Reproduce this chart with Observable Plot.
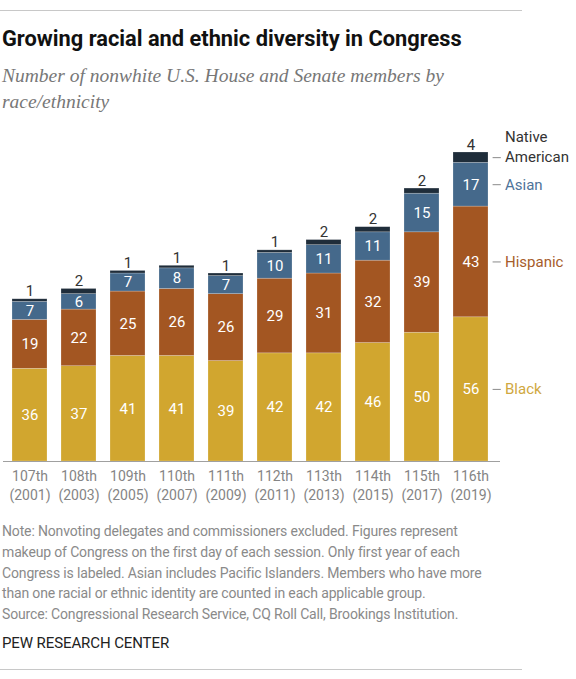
<!DOCTYPE html>
<html>
<head>
<meta charset="utf-8">
<script src="https://cdn.jsdelivr.net/npm/d3@7"></script>
<script src="https://cdn.jsdelivr.net/npm/@observablehq/plot@0.6"></script>
<style>
  html, body { margin: 0; padding: 0; background: #fff; }
  #wrap { position: relative; width: 576px; height: 679px; overflow: hidden; }
  .rule { position: absolute; left: 0; width: 522px; height: 1px; background: #c8c8c8; }
  #title { position: absolute; left: 2px; top: 26px; font: bold 21.8px "Liberation Sans Narrow", "Roboto", sans-serif; line-height: 26px; color: #111; white-space: nowrap; }
  #subtitle { position: absolute; left: 2px; top: 63px; font: italic 19.5px "Liberation Serif", serif; line-height: 26px; color: #777; }
  #chart { position: absolute; left: 0; top: 120px; }
  #note { position: absolute; left: 2px; top: 521px; font: 14px "Roboto", sans-serif; line-height: 20.8px; color: #8a8a8a; letter-spacing: -0.15px; white-space: nowrap; }
  #org { position: absolute; left: 2px; top: 634px; font: 15px "Roboto", sans-serif; line-height: 18px; color: #222; letter-spacing: -0.1px; }
</style>
</head>
<body>
<div id="wrap">
  <div class="rule" style="top:10px"></div>
  <div id="title">Growing racial and ethnic diversity in Congress</div>
  <div id="subtitle">Number of nonwhite U.S. House and Senate members by<br>race/ethnicity</div>
  <div id="chart"></div>
  <div id="note">Note: Nonvoting delegates and commissioners excluded. Figures represent<br>makeup of Congress on the first day of each session. Only first year of each<br>Congress is labeled. Asian includes Pacific Islanders. Members who have more<br>than one racial or ethnic identity are counted in each applicable group.<br>Source: Congressional Research Service, CQ Roll Call, Brookings Institution.</div>
  <div id="org">PEW RESEARCH CENTER</div>
  <div class="rule" style="top:669px"></div>
</div>
<script>
const congresses = ["107th","108th","109th","110th","111th","112th","113th","114th","115th","116th"];
const years = ["2001","2003","2005","2007","2009","2011","2013","2015","2017","2019"];
const black    = [36,37,41,41,39,42,42,46,50,56];
const hispanic = [19,22,25,26,26,29,31,32,39,43];
const asian    = [7,6,7,8,7,10,11,11,15,17];
const native   = [1,2,1,1,1,1,2,2,2,4];
const groups = ["Black","Hispanic","Asian","Native American"];
const groupColors = ["#d1a62f","#a35622","#45698b","#1f2d3a"];
const labelColors = ["#d0a841","#a65d2c","#4e7399","#333333"];

const series = [black, hispanic, asian, native];
const table = [];
congresses.forEach((c, i) => {
  let acc = 0;
  series.forEach((s, g) => {
    const v = s[i];
    table.push({congress: c, group: groups[g], value: v, y1: acc, y2: acc + v, mid: acc + v / 2});
    acc += v;
  });
});
const totals = congresses.map((c, i) => black[i] + hispanic[i] + asian[i] + native[i]);
const tops = congresses.map((c, i) => ({congress: c, value: native[i], total: totals[i]}));
const ticks = congresses.map((c, i) => ({congress: c, label: c + "\n(" + years[i] + ")"}));
const last = congresses[congresses.length - 1];
const legend = table.filter(d => d.congress === last).map((d, g) => ({
  group: d.group, mid: d.mid, text: d.group === "Native American" ? "American" : d.group, color: labelColors[g]
}));

const chart = Plot.plot({
  width: 576,
  height: 391,
  marginTop: 32,
  marginBottom: 50,
  marginLeft: 3,
  marginRight: 76,
  x: {type: "band", domain: congresses, range: [11, 489], paddingInner: 0.29, paddingOuter: 0, axis: null},
  y: {domain: [0, 120], axis: null},
  color: {domain: groups, range: groupColors},
  style: {fontFamily: "Roboto, sans-serif", background: "transparent"},
  marks: [
    Plot.barY(table, {x: "congress", y1: "y1", y2: "y2", fill: "group", stroke: "#ffffff", strokeOpacity: 0.35, strokeWidth: 0.6}),
    Plot.ruleY([0], {stroke: "#a0a0a0", strokeWidth: 1}),
    Plot.text(table.filter(d => d.group !== "Native American"), {x: "congress", y: "mid", text: "value", fill: "#ffffff", fontSize: 15}),
    Plot.text(tops, {x: "congress", y: "total", text: "value", fill: "#333", fontSize: 15, lineAnchor: "bottom", dy: -3}),
    Plot.text(ticks, {x: "congress", y: () => 0, text: "label", fill: "#858585", fontSize: 14, lineAnchor: "top", dy: 7, lineHeight: 1.3}),
    Plot.tickY(legend, {x: () => last, y: "mid", stroke: "#8a8a8a", strokeWidth: 1, dx: 39.6, insetRight: 26.8}),
    Plot.text(legend, {x: () => last, y: "mid", text: "text", fill: "color", fontSize: 15, textAnchor: "start", dx: 34}),
    Plot.text(legend.filter(d => d.group === "Native American"), {x: () => last, y: "mid", text: () => "Native", fill: "color", fontSize: 15, textAnchor: "start", dx: 34, dy: -20})
  ]
});
document.getElementById("chart").appendChild(chart);
</script>
</body>
</html>
